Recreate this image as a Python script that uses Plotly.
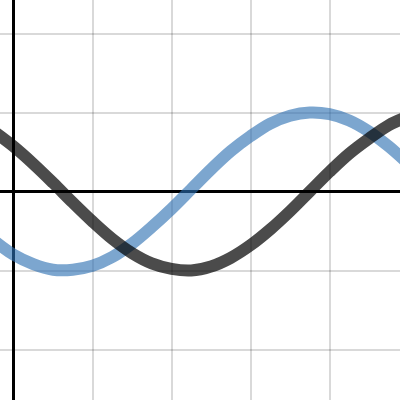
import plotly.graph_objects as go

# sample positions (graph units) and values
x_vals = [-0.25, 0, 0.25, 0.5, 0.75, 1.0, 1.25, 1.5, 1.75, 2.0, 2.25, 2.5,
          2.75, 3.0, 3.25, 3.5, 3.75, 4.0, 4.25, 4.5, 4.75, 5.0]
black_vals = [0.76, 0.57, 0.35, 0.11, -0.14, -0.38, -0.60, -0.78, -0.91, -0.98, -1.0, -0.95,
              -0.84, -0.68, -0.48, -0.25, 0.0, 0.25, 0.48, 0.67, 0.84, 0.95]
blue_vals = [-0.62, -0.80, -0.92, -0.99, -0.99, -0.94, -0.83, -0.66, -0.45, -0.22, 0.03, 0.28,
             0.51, 0.70, 0.86, 0.96, 1.0, 0.98, 0.90, 0.76, 0.57, 0.35]

fig = go.Figure()

fig.add_trace(go.Scatter(
    x=x_vals, y=blue_vals, mode='lines',
    line=dict(color='#2d70b3', width=12, shape='spline', smoothing=1.0),
    opacity=0.62, hoverinfo='skip'
))
fig.add_trace(go.Scatter(
    x=x_vals, y=black_vals, mode='lines',
    line=dict(color='#000000', width=12, shape='spline', smoothing=1.0),
    opacity=0.7, hoverinfo='skip'
))

fig.update_layout(
    width=400, height=400,
    margin=dict(l=0, r=0, t=0, b=0),
    paper_bgcolor='white', plot_bgcolor='white',
    showlegend=False,
)
fig.update_xaxes(
    range=[-13.5 / 79, 386.5 / 79], dtick=1, tick0=0,
    showgrid=True, gridcolor='rgba(0,0,0,0.15)', gridwidth=2,
    zeroline=True, zerolinecolor='#000000', zerolinewidth=3,
    showticklabels=False, ticks='', showline=False,
)
fig.update_yaxes(
    range=[-208.5 / 79, 191.5 / 79], dtick=1, tick0=0,
    showgrid=True, gridcolor='rgba(0,0,0,0.15)', gridwidth=2,
    zeroline=True, zerolinecolor='#000000', zerolinewidth=3,
    showticklabels=False, ticks='', showline=False,
)

# drop the page's default body margin so the graph fills the window
fig.write_html("out.html", config={'displayModeBar': False},
               post_script="document.body.style.margin='0';")
